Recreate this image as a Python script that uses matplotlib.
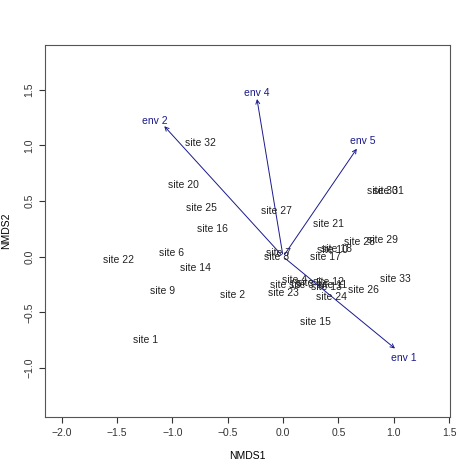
import matplotlib
matplotlib.use("Agg")
import matplotlib.pyplot as plt

plt.rcParams["font.family"] = ["Liberation Sans", "DejaVu Sans"]

sites = ["site 1", "site 2", "site 3", "site 4", "site 5", "site 6", "site 7", "site 8",
         "site 9", "site 10", "site 11", "site 12", "site 13", "site 14", "site 15",
         "site 16", "site 17", "site 18", "site 19", "site 20", "site 21", "site 22",
         "site 23", "site 24", "site 25", "site 26", "site 27", "site 28", "site 29",
         "site 30", "site 31", "site 32", "site 33"]
site_x = [-1.24, -0.46, 0.17, 0.10, 0.24, -1.01, -0.04, -0.06, -1.09, 0.45, 0.44, 0.41,
          0.39, -0.79, 0.29, -0.64, 0.38, 0.48, 0.02, -0.90, 0.41, -1.49, 0.00, 0.44,
          -0.74, 0.73, -0.06, 0.69, 0.90, 0.90, 0.95, -0.75, 1.01]
site_y = [-0.75, -0.34, -0.25, -0.21, -0.24, 0.03, 0.03, 0.00, -0.31, 0.06, -0.25, -0.23,
          -0.27, -0.10, -0.59, 0.25, 0.00, 0.07, -0.25, 0.64, 0.29, -0.03, -0.33, -0.36,
          0.44, -0.30, 0.41, 0.13, 0.15, 0.59, 0.59, 1.02, -0.20]

envs = ["env 1", "env 2", "env 4", "env 5"]
env_x = [1.03, -1.09, -0.24, 0.68]
env_y = [-0.84, 1.19, 1.44, 0.99]
lab_x = [1.09, -1.16, -0.24, 0.72]
lab_y = [-0.91, 1.22, 1.47, 1.04]

fig, ax = plt.subplots(figsize=(4.74, 4.74), dpi=100)
fig.subplots_adjust(left=0.095, right=0.95, bottom=0.12, top=0.905)
ax.set_xlim(-2.15, 1.51)
ax.set_ylim(-1.44, 1.90)

for s, x, y in zip(sites, site_x, site_y):
    ax.text(x, y, s, ha="center", va="center", fontsize=7.5, color="#222222")

arrow_col = "#1a1a8c"
for e, x, y, lx, ly in zip(envs, env_x, env_y, lab_x, lab_y):
    ax.annotate("", xy=(x, y), xytext=(0, 0),
                arrowprops=dict(arrowstyle="->", color=arrow_col, lw=0.7,
                                mutation_scale=7))
    ax.text(lx, ly, e, ha="center", va="center", fontsize=7.5, color=arrow_col)

ax.set_xticks([-2.0, -1.5, -1.0, -0.5, 0.0, 0.5, 1.0, 1.5])
ax.set_yticks([-1.0, -0.5, 0.0, 0.5, 1.0, 1.5])
ax.tick_params(labelsize=7.5, colors="#333333", length=4)
for lbl in ax.get_yticklabels():
    lbl.set_rotation(90)
    lbl.set_va("center")
for sp in ax.spines.values():
    sp.set_color("#555555")
ax.set_xlabel("NMDS1", fontsize=7.5, labelpad=10)
ax.set_ylabel("NMDS2", fontsize=7.5, labelpad=10)

fig.savefig("out.png", dpi=100)
